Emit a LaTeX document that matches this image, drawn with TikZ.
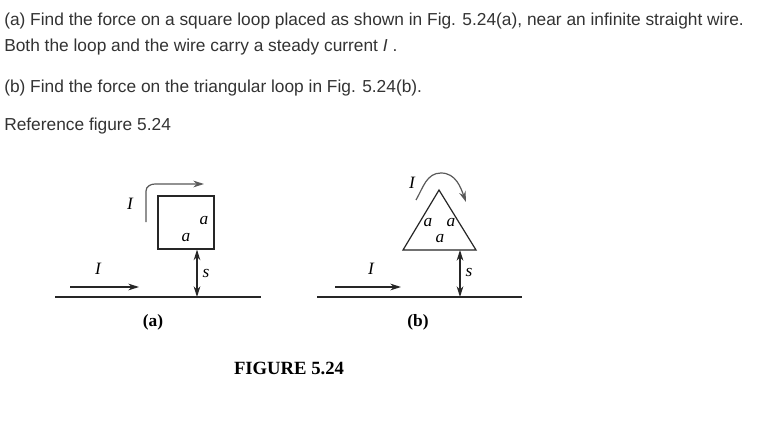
\documentclass[tikz,border=0pt]{standalone}
\usepackage{fontspec}
\setmainfont{Liberation Serif}
\newfontfamily\qfont{Liberation Sans}
\usetikzlibrary{arrows.meta}
\definecolor{qtext}{HTML}{333333}
\begin{document}
\begin{tikzpicture}[x=0.75pt,y=-0.75pt,
  line/.style={draw=black!85,line width=0.9pt},
  arr/.style={line,-{Stealth[length=8pt,width=5pt]}},
  darr/.style={line,{Stealth[length=8pt,width=5pt]}-{Stealth[length=8pt,width=5pt]}},
  qt/.style={anchor=west,inner sep=0pt,text=qtext,font=\qfont\fontsize{13}{15}\selectfont},
  lab/.style={inner sep=0pt,font=\fontsize{13}{15}\selectfont\itshape},
  captxt/.style={inner sep=0pt,font=\fontsize{13}{15}\selectfont\bfseries}]
\useasboundingbox (0,0) rectangle (765,421);
\fill[white] (0,0) rectangle (765,421);
\node[qt] (q1) at (4,21) {(a) Find the force on a square loop placed as shown in Fig. 5.24(a), near an infinite straight wire.};
\node[qt] (q2) at (4,47) {Both the loop and the wire carry a steady current \textit{I} .};
\node[qt] (q3) at (4,88) {(b) Find the force on the triangular loop in Fig. 5.24(b).};
\node[qt] (q4) at (4,126) {Reference figure 5.24};
% (a)
\coordinate (wa1) at (55,297); \coordinate (wa2) at (261,297);
\draw[line] (wa1) -- (wa2);
\coordinate (ia1) at (70,287); \coordinate (ia2) at (139,287);
\draw[arr] (ia1) -- (ia2);
\node[lab] (la) at (98,269) {I};
\node[draw=black!85,line width=0.9pt,minimum width=56*0.75pt,minimum height=53*0.75pt,inner sep=0pt] (sq) at (186,222.5) {};
\coordinate (sa) at (197,297);
\draw[darr] (sa) -- (sq.south -| sa);
\node[lab] (ls) at (206,273) {s};
\node[lab] (la1) at (204,221) {a};
\node[lab] (la2) at (186,238) {a};
\coordinate (ca1) at (146,222); \coordinate (ca2) at (204,184);
\draw[arr,draw=black!65] (ca1) -- (146,191) to[out=90,in=180] (155,184) -- (ca2);
\node[lab] (lia) at (130,204) {I};
\node[captxt] (capa) at (153,322) {(a)};
% (b)
\coordinate (wb1) at (317,297); \coordinate (wb2) at (522,297);
\draw[line] (wb1) -- (wb2);
\coordinate (ib1) at (335,287); \coordinate (ib2) at (401,287);
\draw[arr] (ib1) -- (ib2);
\node[lab] (lb) at (371,269) {I};
\coordinate (t1) at (403,250); \coordinate (t2) at (476,250); \coordinate (t3) at (439,190);
\draw[line] (t1) -- (t2) -- (t3) -- cycle;
\coordinate (sb) at (460,297);
\draw[darr] (sb) -- (460,250);
\node[lab] (lsb) at (469,272) {s};
\node[lab] (lb1) at (428,223) {a};
\node[lab] (lb2) at (451,223) {a};
\node[lab] (lb3) at (440,239) {a};
\coordinate (cb1) at (416,200); \coordinate (cb2) at (466,202);
\draw[arr,draw=black!65] (cb1) to[out=60,in=180] (441,173) to[out=0,in=110] (cb2);
\node[lab] (lib) at (412,183) {I};
\node[captxt] (capb) at (418,322) {(b)};
\node[captxt,font=\fontsize{14}{16}\selectfont\bfseries] (fig) at (289,368) {FIGURE 5.24};
\end{tikzpicture}
\end{document}
